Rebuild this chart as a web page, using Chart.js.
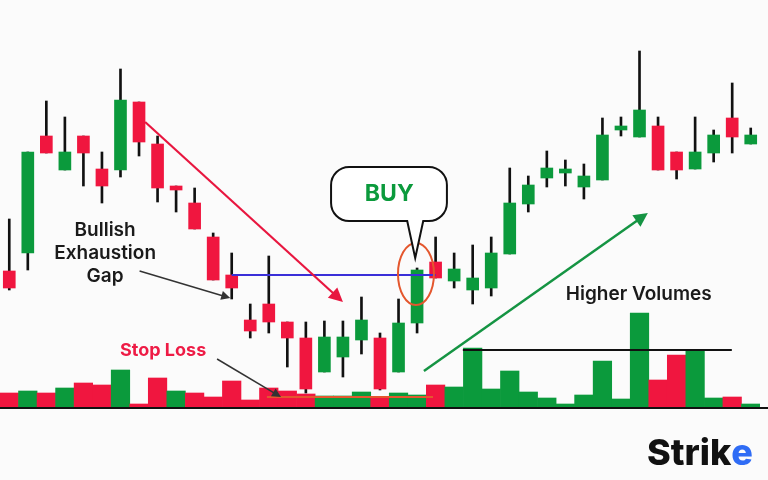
<!DOCTYPE html>
<html>
<head>
<meta charset="utf-8">
<script src="https://cdn.jsdelivr.net/npm/chart.js@4.4.1/dist/chart.umd.min.js"></script>
<style>
  html, body { margin: 0; padding: 0; background: #fbfbfb; }
  #wrap { width: 768px; height: 480px; }
</style>
</head>
<body>
<div id="wrap"><canvas id="chart" width="768" height="480"></canvas></div>
<script>
// price candles (arbitrary price units, 0 = volume baseline)
const opens  = [137,155,272,238,272,239,238,306,264,222,205,171,133, 88,104, 86, 70, 36, 51, 68, 70, 36, 85,146,127,118,120,154,204,230,235,221,228,278,271,282,256,239,255,290,264];
const closes = [120,256,255,256,255,222,308,266,220,218,179,128,120, 77, 86, 70, 19, 71, 71, 88, 19, 85,138,130,139,130,155,205,223,240,239,232,273,282,298,238,238,256,273,271,273];
const highs  = [189,256,307,291,272,256,339,306,272,222,220,175,155,104,152, 86, 86, 87, 87,111, 75,109,140,171,155,163,171,240,232,257,248,244,290,291,357,291,256,291,278,325,280];
const lows   = [118,138,255,238,222,205,231,252,206,196,179,128,109, 70, 75, 41, 15, 36, 31, 54, 18, 36, 75,130,120,104,112,154,196,221,222,209,228,272,271,238,229,239,246,255,264];

// volume bars and their colour (1 = up / green, 0 = down / red)
const volumes = [15,17,15,20,25,23,38, 4,30,17,15,11,27, 8,20,17,14,12,12,16,11,15,13,23,21,60,19,37,16,10, 4,13,47, 9,95,28,53,58,10,11, 4];
const volUp   = [ 0, 1, 0, 1, 0, 0, 1, 0, 0, 1, 0, 0, 0, 0, 0, 0, 0, 1, 1, 1, 0, 1, 1, 0, 1, 1, 1, 1, 1, 1, 1, 1, 1, 1, 1, 0, 0, 1, 1, 0, 1];

const labels = opens.map((_, i) => i + 1);

const GREEN = '#0b9a3c';
const RED = '#f0163f';

const candleColors = opens.map((o, i) => closes[i] >= o ? GREEN : RED);
const volColors = volUp.map(u => u ? GREEN : RED);

function arrow(ctx, x1, y1, x2, y2, color, width, head) {
    const a = Math.atan2(y2 - y1, x2 - x1);
    ctx.save();
    ctx.strokeStyle = color;
    ctx.fillStyle = color;
    ctx.lineWidth = width;
    ctx.beginPath();
    ctx.moveTo(x1, y1);
    ctx.lineTo(x2 - Math.cos(a) * head * 0.8, y2 - Math.sin(a) * head * 0.8);
    ctx.stroke();
    ctx.beginPath();
    ctx.moveTo(x2, y2);
    ctx.lineTo(x2 - head * Math.cos(a) + head * 0.5 * Math.sin(a), y2 - head * Math.sin(a) - head * 0.5 * Math.cos(a));
    ctx.lineTo(x2 - head * Math.cos(a) - head * 0.5 * Math.sin(a), y2 - head * Math.sin(a) + head * 0.5 * Math.cos(a));
    ctx.closePath();
    ctx.fill();
    ctx.restore();
}

// annotations, placed in data space (candle index, price)
const notes = {
    id: 'notes',
    afterDatasetsDraw(chart) {
        const { ctx, chartArea, scales: { x, y } } = chart;
        const x0 = x.getPixelForValue(0);
        const step = x.getPixelForValue(1) - x0;
        const px = i => x0 + i * step;
        const py = v => y.getPixelForValue(v);

        // baseline
        ctx.save();
        ctx.strokeStyle = '#111';
        ctx.lineWidth = 2;
        ctx.beginPath();
        ctx.moveTo(0, chartArea.bottom);
        ctx.lineTo(chart.width, chartArea.bottom);
        ctx.stroke();

        // stop loss line over volume
        ctx.strokeStyle = '#e4572e';
        ctx.lineWidth = 2;
        ctx.beginPath();
        ctx.moveTo(px(13.9), py(11));
        ctx.lineTo(px(22.86), py(11));
        ctx.stroke();

        // high-volume threshold line
        ctx.strokeStyle = '#111';
        ctx.lineWidth = 2;
        ctx.beginPath();
        ctx.moveTo(px(24.47), py(58));
        ctx.lineTo(px(38.98), py(58));
        ctx.stroke();

        // gap level line
        ctx.strokeStyle = '#3a2fd8';
        ctx.lineWidth = 2;
        ctx.beginPath();
        ctx.moveTo(px(12.0), py(133));
        ctx.lineTo(px(23.0), py(133));
        ctx.stroke();

        // ellipse around breakout candle
        ctx.strokeStyle = '#e4572e';
        ctx.lineWidth = 2;
        ctx.beginPath();
        ctx.ellipse(px(21.94), py(134), step * 0.97, Math.abs(py(0) - py(31)), 0, 0, Math.PI * 2);
        ctx.stroke();
        ctx.restore();

        arrow(ctx, px(7.33), py(286), px(18.0), py(106), '#e8163f', 2.2, 14);
        arrow(ctx, px(22.37), py(37), px(34.45), py(195), '#159443', 2.5, 14);
        arrow(ctx, px(7.03), py(137), px(11.92), py(110), '#333', 1.5, 9);
        arrow(ctx, px(11.21), py(49), px(14.66), py(11), '#333', 1.5, 9);

        // BUY callout
        const bl = px(17.36), br = px(23.61), bt = py(241), bb = py(187);
        const tipX = px(21.9), tipY = py(150), bw = 8;
        const r = 18;
        ctx.save();
        ctx.fillStyle = '#fff';
        ctx.strokeStyle = '#111';
        ctx.lineWidth = 2;
        ctx.beginPath();
        ctx.moveTo(bl + r, bt);
        ctx.lineTo(br - r, bt);
        ctx.arcTo(br, bt, br, bt + r, r);
        ctx.lineTo(br, bb - r);
        ctx.arcTo(br, bb, br - r, bb, r);
        ctx.lineTo(tipX + bw, bb);
        ctx.lineTo(tipX, tipY);
        ctx.lineTo(tipX - bw, bb);
        ctx.lineTo(bl + r, bb);
        ctx.arcTo(bl, bb, bl, bb - r, r);
        ctx.lineTo(bl, bt + r);
        ctx.arcTo(bl, bt, bl + r, bt, r);
        ctx.closePath();
        ctx.fill();
        ctx.stroke();

        ctx.textAlign = 'center';
        ctx.textBaseline = 'middle';
        ctx.fillStyle = GREEN;
        ctx.font = '700 23px Inter, "Open Sans", sans-serif';
        ctx.fillText('BUY', px(20.5), py(214));

        ctx.fillStyle = '#1a1a1a';
        ctx.font = '600 19px Inter, "Open Sans", sans-serif';
        ctx.fillText('Bullish', px(5.17), py(178));
        ctx.fillText('Exhaustion', px(5.17), py(155));
        ctx.fillText('Gap', px(5.17), py(132));
        ctx.fillText('Higher Volumes', px(33.96), py(114));

        ctx.fillStyle = '#ee1b45';
        ctx.font = '700 18px Inter, "Open Sans", sans-serif';
        ctx.fillText('Stop Loss', px(8.3), py(57));

        // logo
        ctx.textAlign = 'left';
        ctx.textBaseline = 'alphabetic';
        ctx.font = '800 36px Inter, "Open Sans", sans-serif';
        const lx = 647, ly = 465;
        ctx.fillStyle = '#111';
        ctx.fillText('Strik', lx, ly);
        const w = ctx.measureText('Strik').width;
        ctx.fillStyle = '#2f6cf5';
        ctx.fillText('e', lx + w, ly);
        ctx.restore();
    }
};

new Chart(document.getElementById('chart'), {
    type: 'bar',
    data: {
        labels: labels,
        datasets: [
            {
                label: 'Body',
                data: opens.map((o, i) => [o, closes[i]]),
                backgroundColor: candleColors,
                barThickness: 12,
                borderSkipped: false,
                grouped: false,
                order: 1,
                yAxisID: 'y'
            },
            {
                label: 'Wick',
                data: lows.map((l, i) => [l, highs[i]]),
                backgroundColor: '#111',
                barThickness: 2,
                borderSkipped: false,
                grouped: false,
                order: 2,
                yAxisID: 'y'
            },
            {
                label: 'Volume',
                data: volumes,
                backgroundColor: volColors,
                barPercentage: 1,
                categoryPercentage: 1,
                grouped: false,
                order: 3,
                yAxisID: 'v'
            }
        ]
    },
    options: {
        responsive: false,
        animation: false,
        layout: { padding: { left: 0, right: 8, top: 0, bottom: 72 } },
        plugins: {
            legend: { display: false },
            tooltip: { enabled: false }
        },
        scales: {
            x: { display: false, offset: true },
            y: { display: false, min: 0, max: 408 },
            v: { display: false, min: 0, max: 408 }
        }
    },
    plugins: [notes]
});
</script>
</body>
</html>
